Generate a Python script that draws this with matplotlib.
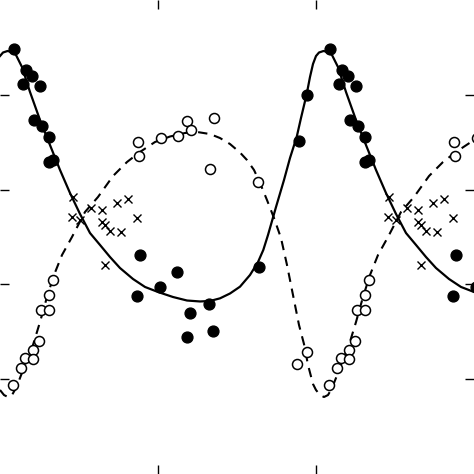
import numpy as np
import matplotlib
matplotlib.use("Agg")
import matplotlib.pyplot as plt

# Primary component (filled circles)
prim_phase = [0.0443, 0.0829, 0.1028, 0.0728, 0.1250, 0.1082, 0.1335, 0.1541, 0.1687, 0.1566,
              0.4427, 0.5601, 0.5073, 0.4342, 0.6604, 0.6013, 0.5918, 0.6731, 0.8196, 0.9715, 0.9472]
prim_val = [4.480, 4.259, 4.201, 4.112, 4.096, 3.734, 3.676, 3.558, 3.312, 3.286,
            2.305, 2.134, 1.969, 1.878, 1.796, 1.701, 1.448, 1.508, 2.180, 4.001, 3.509]

# Secondary component (open circles)
sec_phase = [0.4358, 0.4399, 0.5095, 0.5623, 0.5908, 0.6044, 0.6782, 0.6646, 0.8174, 0.1693,
             0.1544, 0.1304, 0.1541, 0.1228, 0.1054, 0.0782, 0.1038, 0.0674, 0.0418, 0.9715, 0.9399]
sec_val = [3.507, 3.354, 3.541, 3.562, 3.720, 3.632, 3.755, 3.217, 3.077, 2.043,
           1.890, 1.734, 1.725, 1.403, 1.305, 1.220, 1.208, 1.118, 0.942, 1.284, 1.160]

# Blended measurements (crosses)
bl_phase = [0.2316, 0.2886, 0.3228, 0.3712, 0.4038, 0.2278, 0.2547, 0.3228, 0.3307, 0.3481,
            0.3820, 0.4320, 0.3332]
bl_val = [2.924, 2.811, 2.785, 2.862, 2.901, 2.711, 2.679, 2.656, 2.630, 2.561,
          2.558, 2.700, 2.205]

# Fitted orbit, primary (solid)
fit1_phase = [0.0, 0.0095, 0.0237, 0.038, 0.0506, 0.0696, 0.0949, 0.1266, 0.1582, 0.1899,
              0.2215, 0.2532, 0.2848, 0.3165, 0.3481, 0.3797, 0.4209, 0.4589, 0.5, 0.5475,
              0.5918, 0.6329, 0.6646, 0.6962, 0.7278, 0.7595, 0.7911, 0.8165, 0.8332, 0.8481,
              0.8734, 0.8987, 0.9177, 0.9389, 0.9525, 0.9706, 0.981, 0.9905, 1.0]
fit1_val = [4.409, 4.446, 4.462, 4.451, 4.420, 4.293, 4.030, 3.734, 3.470, 3.207,
            2.964, 2.743, 2.542, 2.416, 2.289, 2.173, 2.057, 1.973, 1.920, 1.867,
            1.830, 1.820, 1.825, 1.853, 1.904, 1.976, 2.099, 2.236, 2.363, 2.521,
            2.816, 3.101, 3.333, 3.555, 3.755, 4.008, 4.188, 4.325, 4.409]

# Fitted orbit, secondary (dashed)
fit2_phase = [0.0, 0.0127, 0.0253, 0.038, 0.0506, 0.0633, 0.0823, 0.1044, 0.1266, 0.1487,
              0.1709, 0.1962, 0.2278, 0.269, 0.3101, 0.3576, 0.4019, 0.443, 0.4905, 0.538,
              0.5854, 0.6234, 0.6646, 0.6962, 0.7278, 0.7595, 0.7816, 0.8038, 0.8228, 0.8449,
              0.8671, 0.8892, 0.9082, 0.9304, 0.9462, 0.962, 0.9747, 0.9905, 1.0]
fit2_val = [0.886, 0.833, 0.812, 0.833, 0.907, 1.013, 1.181, 1.361, 1.603, 1.867,
            2.099, 2.310, 2.500, 2.764, 2.922, 3.143, 3.291, 3.397, 3.502, 3.560,
            3.597, 3.608, 3.586, 3.544, 3.481, 3.391, 3.312, 3.207, 3.070, 2.890,
            2.700, 2.489, 2.205, 1.835, 1.572, 1.371, 1.150, 0.949, 0.886]

x_ticks = [0.5, 1.0]
y_ticks = [1, 2, 3, 4]


def two_cycles(ph, val):
    ph = np.asarray(ph)
    val = np.asarray(val)
    return np.concatenate([ph, ph + 1]), np.concatenate([val, val])


def curve_two_cycles(ph, val):
    ph = np.asarray(ph)
    val = np.asarray(val)
    return np.concatenate([ph, ph[1:] + 1]), np.concatenate([val, val[1:]])


fig = plt.figure(figsize=(4.74, 4.74), dpi=100)
ax = fig.add_axes([0, 0, 1, 1])

x, y = curve_two_cycles(fit1_phase, fit1_val)
ax.plot(x, y, color="black", lw=1.6, zorder=2)
x, y = curve_two_cycles(fit2_phase, fit2_val)
ax.plot(x, y, color="black", lw=1.5, dashes=(4.5, 3.3), zorder=2)

x, y = two_cycles(bl_phase, bl_val)
ax.plot(x, y, "x", color="black", ms=6, mew=1.0, zorder=3)
x, y = two_cycles(sec_phase, sec_val)
ax.plot(x, y, "o", mfc="white", mec="black", ms=7.2, mew=1.1, zorder=4)
x, y = two_cycles(prim_phase, prim_val)
ax.plot(x, y, "o", color="black", ms=7.8, zorder=5)

ax.set_xlim(0, 1.5)
ax.set_ylim(0, 5)
ax.set_xticks(x_ticks)
ax.set_yticks(y_ticks)
ax.tick_params(direction="in", length=6.5, width=1.0, top=True, right=True,
               labelbottom=False, labelleft=False)
for s in ax.spines.values():
    s.set_visible(False)

fig.savefig("out.png", dpi=100)
